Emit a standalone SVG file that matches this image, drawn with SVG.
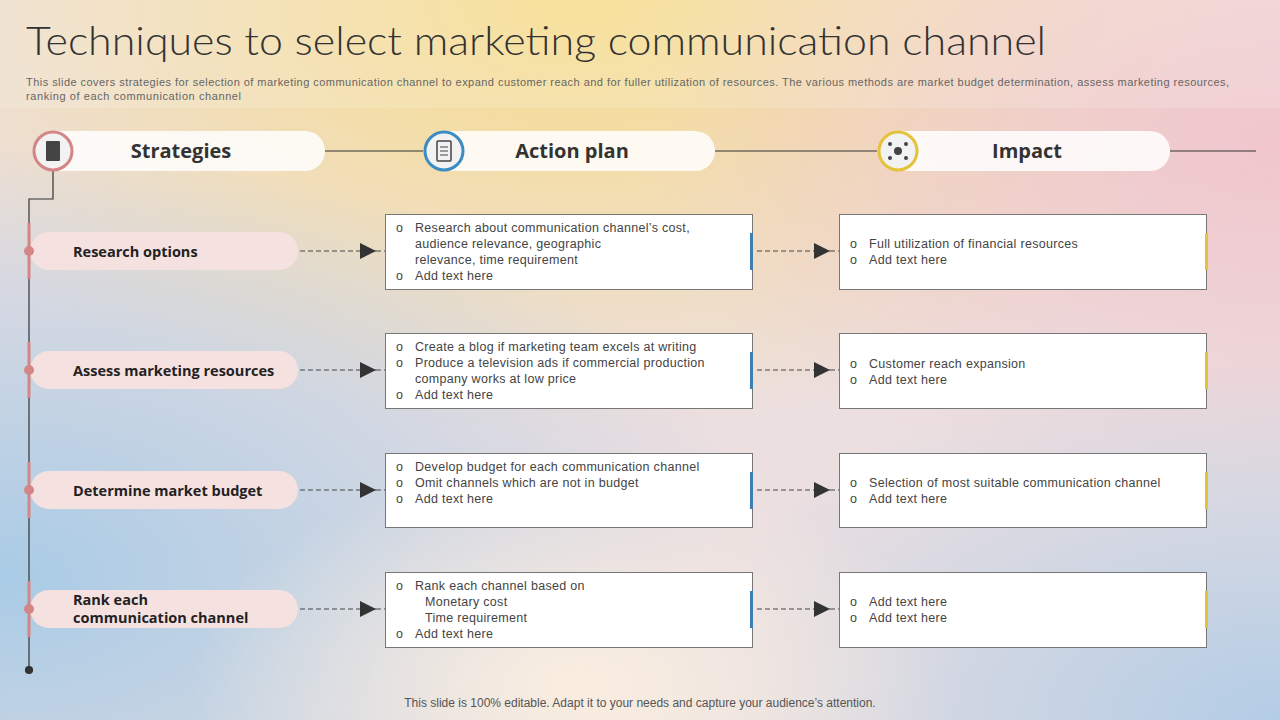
<svg xmlns="http://www.w3.org/2000/svg" width="1280" height="720" viewBox="0 0 1280 720">
<defs>
<radialGradient id="gY" cx="0.45" cy="0" r="0.6"><stop offset="0" stop-color="#f7dc8a"/><stop offset="1" stop-color="#f7dc8a" stop-opacity="0"/></radialGradient>
<radialGradient id="gB" cx="0" cy="0.8" r="0.6"><stop offset="0" stop-color="#a9cbe6"/><stop offset="1" stop-color="#a9cbe6" stop-opacity="0"/></radialGradient>
<radialGradient id="gP" cx="1" cy="0.2" r="0.5"><stop offset="0" stop-color="#f0c6cc"/><stop offset="1" stop-color="#f0c6cc" stop-opacity="0"/></radialGradient>
<radialGradient id="gB2" cx="1" cy="1" r="0.5"><stop offset="0" stop-color="#b3cde6"/><stop offset="1" stop-color="#b3cde6" stop-opacity="0"/></radialGradient>
<radialGradient id="gW" cx="0.45" cy="0.95" r="0.3"><stop offset="0" stop-color="#fbeee0"/><stop offset="1" stop-color="#fbeee0" stop-opacity="0"/></radialGradient>
<marker id="ar" viewBox="0 0 10 10" refX="10" refY="5" markerWidth="16" markerHeight="16" markerUnits="userSpaceOnUse" orient="auto"><path d="M0,0L10,5L0,10z" fill="#333"/></marker>
<style>
.t{font-family:"Liberation Sans",Arial,sans-serif}
.h{font-family:"Open Sans","Liberation Sans",sans-serif;font-weight:bold;font-size:20px;fill:#333}
.s{font-family:"Open Sans","Liberation Sans",sans-serif;font-weight:bold;font-size:14.5px;fill:#222}
.b{font-family:"Liberation Sans",Arial,sans-serif;font-size:12.5px;fill:#444;letter-spacing:0.3px}
.box{fill:#fff;stroke:#777;stroke-width:1}
.pill{fill:#f6e1e1}
.hp{fill:#fff;opacity:0.85}
.dash{stroke:#444;stroke-width:1.2;stroke-dasharray:5,3;fill:none}
</style>
</defs>
<rect width="1280" height="720" fill="#ecdfe0"/>
<rect width="1280" height="720" fill="url(#gY)"/>
<rect width="1280" height="720" fill="url(#gB)"/>
<rect width="1280" height="720" fill="url(#gP)"/>
<rect width="1280" height="720" fill="url(#gB2)"/>
<rect width="1280" height="720" fill="url(#gW)"/>
<rect width="1280" height="108" fill="#fff" opacity="0.15"/>
<text x="26" y="55" font-size="39" fill="#333" textLength="1020" lengthAdjust="spacingAndGlyphs" style="font-family:Lato,'Liberation Sans',sans-serif;font-weight:300">Techniques to select marketing communication channel</text>
<text x="26" y="86" class="t" font-size="11" fill="#666" textLength="1203" lengthAdjust="spacing">This slide covers strategies for selection of marketing communication channel to expand customer reach and for fuller utilization of resources. The various methods are market budget determination, assess marketing resources,</text>
<text x="26" y="100" class="t" font-size="11" fill="#666" textLength="215" lengthAdjust="spacing">ranking of each communication channel</text>

<g id="connectors" fill="none" stroke="#333" stroke-width="1.2">
<line x1="325" y1="151" x2="423" y2="151"/>
<line x1="715" y1="151" x2="877" y2="151"/>
<line x1="1170" y1="151" x2="1256" y2="151"/>
<polyline points="53,171 53,199 29,199 29,670"/>
<circle cx="29" cy="670" r="3.5" fill="#333"/>
<g class="dash">
<line x1="300" y1="251" x2="376" y2="251" marker-end="url(#ar)"/><line x1="376" y1="251" x2="385" y2="251"/>
<line x1="757" y1="251" x2="830" y2="251" marker-end="url(#ar)"/><line x1="830" y1="251" x2="839" y2="251"/>
<line x1="300" y1="370" x2="376" y2="370" marker-end="url(#ar)"/><line x1="376" y1="370" x2="385" y2="370"/>
<line x1="757" y1="370" x2="830" y2="370" marker-end="url(#ar)"/><line x1="830" y1="370" x2="839" y2="370"/>
<line x1="300" y1="490" x2="376" y2="490" marker-end="url(#ar)"/><line x1="376" y1="490" x2="385" y2="490"/>
<line x1="757" y1="490" x2="830" y2="490" marker-end="url(#ar)"/><line x1="830" y1="490" x2="839" y2="490"/>
<line x1="300" y1="609" x2="376" y2="609" marker-end="url(#ar)"/><line x1="376" y1="609" x2="385" y2="609"/>
<line x1="757" y1="609" x2="830" y2="609" marker-end="url(#ar)"/><line x1="830" y1="609" x2="839" y2="609"/>
</g>
</g>

<g id="h-strategies">
<rect x="36" y="131" width="289" height="40" rx="20" class="hp"/>
<circle cx="53" cy="151" r="19" fill="#f2f2f2" stroke="#d48585" stroke-width="3"/>
<rect x="46" y="141" width="14" height="20" rx="1" fill="#444"/>
<text x="181" y="158" text-anchor="middle" class="h">Strategies</text>
</g>
<g id="h-action">
<rect x="426" y="131" width="289" height="40" rx="20" class="hp"/>
<circle cx="444" cy="151" r="19" fill="#f2f2f2" stroke="#3b8cc2" stroke-width="3"/>
<rect x="437" y="141" width="14" height="20" rx="1" fill="none" stroke="#444" stroke-width="1.5"/>
<line x1="440" y1="147" x2="448" y2="147" stroke="#444"/><line x1="440" y1="151" x2="448" y2="151" stroke="#444"/><line x1="440" y1="155" x2="448" y2="155" stroke="#444"/>
<text x="572" y="158" text-anchor="middle" class="h">Action plan</text>
</g>
<g id="h-impact">
<rect x="880" y="131" width="290" height="40" rx="20" class="hp"/>
<circle cx="898" cy="151" r="19" fill="#f2f2f2" stroke="#e4c23a" stroke-width="3"/>
<circle cx="898" cy="151" r="4" fill="#444"/>
<circle cx="890" cy="144" r="2" fill="#444"/><circle cx="906" cy="144" r="2" fill="#444"/><circle cx="890" cy="158" r="2" fill="#444"/><circle cx="906" cy="158" r="2" fill="#444"/>
<text x="1027" y="158" text-anchor="middle" class="h">Impact</text>
</g>

<g id="s1"><rect x="30" y="232" width="268" height="38" rx="19" class="pill"/><rect x="27.5" y="223" width="3" height="56" fill="#d48585"/><circle cx="29" cy="251" r="5" fill="#d48585"/><text x="73" y="257" class="s">Research options</text></g>
<g id="s2"><rect x="30" y="351" width="268" height="38" rx="19" class="pill"/><rect x="27.5" y="342" width="3" height="56" fill="#d48585"/><circle cx="29" cy="370" r="5" fill="#d48585"/><text x="73" y="376" class="s">Assess marketing resources</text></g>
<g id="s3"><rect x="30" y="471" width="268" height="38" rx="19" class="pill"/><rect x="27.5" y="462" width="3" height="56" fill="#d48585"/><circle cx="29" cy="490" r="5" fill="#d48585"/><text x="73" y="496" class="s">Determine market budget</text></g>
<g id="s4"><rect x="30" y="590" width="268" height="38" rx="19" class="pill"/><rect x="27.5" y="581" width="3" height="56" fill="#d48585"/><circle cx="29" cy="609" r="5" fill="#d48585"/><text x="73" y="605" class="s">Rank each</text><text x="73" y="623" class="s">communication channel</text></g>

<g id="a1"><rect x="385.5" y="214.5" width="367" height="75" class="box"/><rect x="750" y="233" width="3" height="37" fill="#3b7fb5"/>
<text class="b"><tspan x="396" y="232">o</tspan><tspan x="415" y="232">Research about communication channel’s cost,</tspan><tspan x="415" y="248">audience relevance,  geographic</tspan><tspan x="415" y="264">relevance,  time requirement</tspan><tspan x="396" y="280">o</tspan><tspan x="415" y="280">Add text here</tspan></text></g>
<g id="a2"><rect x="385.5" y="333.5" width="367" height="75" class="box"/><rect x="750" y="352" width="3" height="37" fill="#3b7fb5"/>
<text class="b"><tspan x="396" y="351">o</tspan><tspan x="415" y="351">Create a blog if marketing team excels at writing</tspan><tspan x="396" y="367">o</tspan><tspan x="415" y="367">Produce a television ads if commercial production</tspan><tspan x="415" y="383">company works at low price</tspan><tspan x="396" y="399">o</tspan><tspan x="415" y="399">Add text here</tspan></text></g>
<g id="a3"><rect x="385.5" y="453.5" width="367" height="74" class="box"/><rect x="750" y="472" width="3" height="37" fill="#3b7fb5"/>
<text class="b"><tspan x="396" y="471">o</tspan><tspan x="415" y="471">Develop budget for each communication channel</tspan><tspan x="396" y="487">o</tspan><tspan x="415" y="487">Omit channels which are not in budget</tspan><tspan x="396" y="503">o</tspan><tspan x="415" y="503">Add text here</tspan></text></g>
<g id="a4"><rect x="385.5" y="572.5" width="367" height="75" class="box"/><rect x="750" y="591" width="3" height="37" fill="#3b7fb5"/>
<text class="b"><tspan x="396" y="590">o</tspan><tspan x="415" y="590">Rank each channel based on</tspan><tspan x="425" y="606">Monetary cost</tspan><tspan x="425" y="622">Time requirement</tspan><tspan x="396" y="638">o</tspan><tspan x="415" y="638">Add text here</tspan></text></g>

<g id="i1"><rect x="839.5" y="214.5" width="367" height="75" class="box"/><rect x="1205" y="233" width="3" height="37" fill="#e4c23a"/>
<text class="b"><tspan x="850" y="248">o</tspan><tspan x="869" y="248">Full utilization of financial resources</tspan><tspan x="850" y="264">o</tspan><tspan x="869" y="264">Add text here</tspan></text></g>
<g id="i2"><rect x="839.5" y="333.5" width="367" height="75" class="box"/><rect x="1205" y="352" width="3" height="37" fill="#e4c23a"/>
<text class="b"><tspan x="850" y="368">o</tspan><tspan x="869" y="368">Customer reach expansion</tspan><tspan x="850" y="384">o</tspan><tspan x="869" y="384">Add text here</tspan></text></g>
<g id="i3"><rect x="839.5" y="453.5" width="367" height="74" class="box"/><rect x="1205" y="472" width="3" height="37" fill="#e4c23a"/>
<text class="b"><tspan x="850" y="487">o</tspan><tspan x="869" y="487">Selection of most suitable communication channel</tspan><tspan x="850" y="503">o</tspan><tspan x="869" y="503">Add text here</tspan></text></g>
<g id="i4"><rect x="839.5" y="572.5" width="367" height="75" class="box"/><rect x="1205" y="591" width="3" height="37" fill="#e4c23a"/>
<text class="b"><tspan x="850" y="606">o</tspan><tspan x="869" y="606">Add text here</tspan><tspan x="850" y="622">o</tspan><tspan x="869" y="622">Add text here</tspan></text></g>

<text x="640" y="707" text-anchor="middle" class="t" font-size="12" fill="#555">This slide is 100% editable. Adapt it to your needs and capture your audience’s attention.</text>
</svg>
